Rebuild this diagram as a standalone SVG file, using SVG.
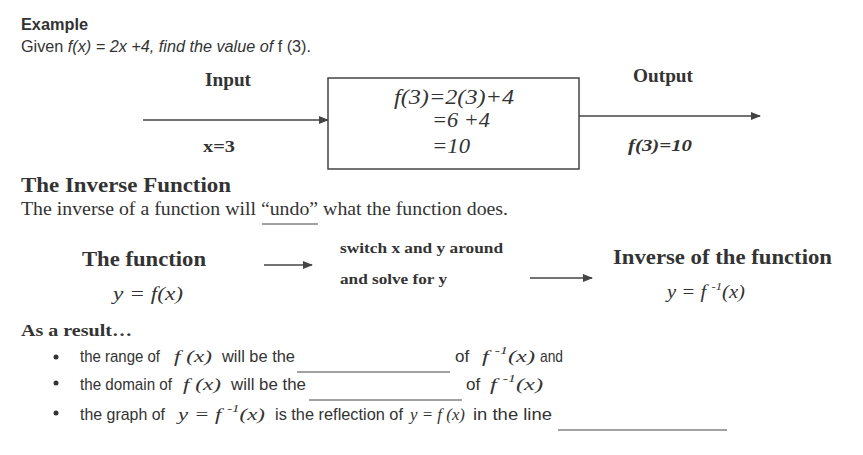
<svg xmlns="http://www.w3.org/2000/svg" width="863" height="455" viewBox="0 0 863 455">
<style>
.s{font-family:"Liberation Sans",Arial,sans-serif;fill:#333}
.t{font-family:"Liberation Serif","Times New Roman",serif;fill:#333}
.b{font-weight:bold}
.i{font-style:italic}
.ln{stroke:#444;stroke-width:1.5;fill:none}
.u{stroke:#444;stroke-width:1}
</style>
<defs><marker id="a" markerWidth="10" markerHeight="8" refX="9" refY="4" orient="auto" markerUnits="userSpaceOnUse"><path d="M0,0L10,4L0,8z" fill="#444"/></marker></defs>
<rect width="863" height="455" fill="#fff"/>
<text class="s b" x="21" y="30" font-size="16" textLength="67" lengthAdjust="spacingAndGlyphs">Example</text>
<text class="s" x="21" y="52" font-size="16" textLength="290" lengthAdjust="spacingAndGlyphs">Given <tspan class="i">f(x) = 2x +4, find the value of</tspan>  f (3).</text>
<g id="input"><text class="t b" x="205" y="86" font-size="18" textLength="46" lengthAdjust="spacingAndGlyphs">Input</text><text class="t b" x="203" y="152" font-size="16" textLength="32" lengthAdjust="spacingAndGlyphs">x=3</text></g>
<g id="box"><rect x="328" y="78" width="251" height="91" class="ln"/>
<text class="t i" x="394" y="104" font-size="20" textLength="120" lengthAdjust="spacingAndGlyphs">f(3)=2(3)+4</text>
<text class="t i" x="432" y="127" font-size="20" textLength="58" lengthAdjust="spacingAndGlyphs">=6 +4</text>
<text class="t i" x="432" y="153" font-size="20" textLength="38" lengthAdjust="spacingAndGlyphs">=10</text></g>
<g id="output"><text class="t b" x="633" y="82" font-size="18" textLength="60" lengthAdjust="spacingAndGlyphs">Output</text><text class="t b i" x="628" y="151" font-size="16" textLength="64" lengthAdjust="spacingAndGlyphs">f(3)=10</text></g>
<g id="connectors">
<line x1="143" y1="120" x2="328" y2="120" class="ln" marker-end="url(#a)"/>
<line x1="579" y1="116" x2="760" y2="116" class="ln" marker-end="url(#a)"/>
<line x1="264" y1="265" x2="312" y2="265" class="ln" marker-end="url(#a)"/>
<line x1="530" y1="278" x2="592" y2="278" class="ln" marker-end="url(#a)"/>
</g>
<text class="t b" x="21" y="192" font-size="21" textLength="210" lengthAdjust="spacingAndGlyphs">The Inverse Function</text>
<text class="t" x="21" y="215" font-size="18" textLength="487" lengthAdjust="spacingAndGlyphs">The inverse of a function will “undo” what the function does.</text>
<line x1="262" y1="224" x2="318" y2="224" class="u"/>
<g id="func"><text class="t b" x="82" y="266" font-size="21" textLength="124" lengthAdjust="spacingAndGlyphs">The function</text><text class="t i" x="113" y="300" font-size="18" textLength="70" lengthAdjust="spacingAndGlyphs">y = f(x)</text></g>
<g id="switch"><text class="t b" x="340" y="253" font-size="15" textLength="163" lengthAdjust="spacingAndGlyphs">switch x and y around</text><text class="t b" x="340" y="284" font-size="15" textLength="107" lengthAdjust="spacingAndGlyphs">and solve for y</text></g>
<g id="inverse"><text class="t b" x="613" y="264" font-size="21" textLength="219" lengthAdjust="spacingAndGlyphs">Inverse of the function</text><text class="t i" x="667" y="298" font-size="18" textLength="78" lengthAdjust="spacingAndGlyphs">y = f <tspan font-size="11" dy="-8">-1</tspan><tspan dy="8">(x)</tspan></text></g>
<text class="t b" x="21" y="336" font-size="17" textLength="111" lengthAdjust="spacingAndGlyphs">As a result…</text>
<circle cx="56" cy="357" r="2.5" fill="#333"/><circle cx="56" cy="383" r="2.5" fill="#333"/><circle cx="56" cy="413" r="2.5" fill="#333"/>
<g font-size="17">
<text class="s" x="80" y="362" textLength="80" lengthAdjust="spacingAndGlyphs">the range of</text>
<text class="t i" x="174" y="362" textLength="38" lengthAdjust="spacingAndGlyphs">f (x)</text>
<text class="s" x="222" y="362" textLength="73" lengthAdjust="spacingAndGlyphs">will be the</text>
<text class="s" x="455" y="362">of</text>
<text class="t i" x="482" y="362" textLength="53" lengthAdjust="spacingAndGlyphs">f <tspan font-size="11" dy="-8">-1</tspan><tspan dy="8">(x)</tspan></text>
<text class="s" x="540" y="362" textLength="23" lengthAdjust="spacingAndGlyphs">and</text>
<text class="s" x="80" y="390" textLength="92" lengthAdjust="spacingAndGlyphs">the domain of</text>
<text class="t i" x="183" y="390" textLength="38" lengthAdjust="spacingAndGlyphs">f (x)</text>
<text class="s" x="231" y="390" textLength="75" lengthAdjust="spacingAndGlyphs">will be the</text>
<text class="s" x="466" y="390">of</text>
<text class="t i" x="490" y="390" textLength="53" lengthAdjust="spacingAndGlyphs">f <tspan font-size="11" dy="-8">-1</tspan><tspan dy="8">(x)</tspan></text>
<text class="s" x="80" y="420" textLength="85" lengthAdjust="spacingAndGlyphs">the graph of</text>
<text class="t i" x="178" y="420" textLength="87" lengthAdjust="spacingAndGlyphs">y = f <tspan font-size="11" dy="-8">-1</tspan><tspan dy="8">(x)</tspan></text>
<text class="s" x="275" y="420" textLength="128" lengthAdjust="spacingAndGlyphs">is the reflection of</text>
<text class="t i" x="410" y="420" textLength="55" lengthAdjust="spacingAndGlyphs">y = f (x)</text>
<text class="s" x="473" y="420" textLength="79" lengthAdjust="spacingAndGlyphs">in the line</text>
</g>
<line x1="297" y1="372" x2="450" y2="372" class="u"/>
<line x1="309" y1="400" x2="462" y2="400" class="u"/>
<line x1="558" y1="430" x2="727" y2="430" class="u"/>
</svg>
